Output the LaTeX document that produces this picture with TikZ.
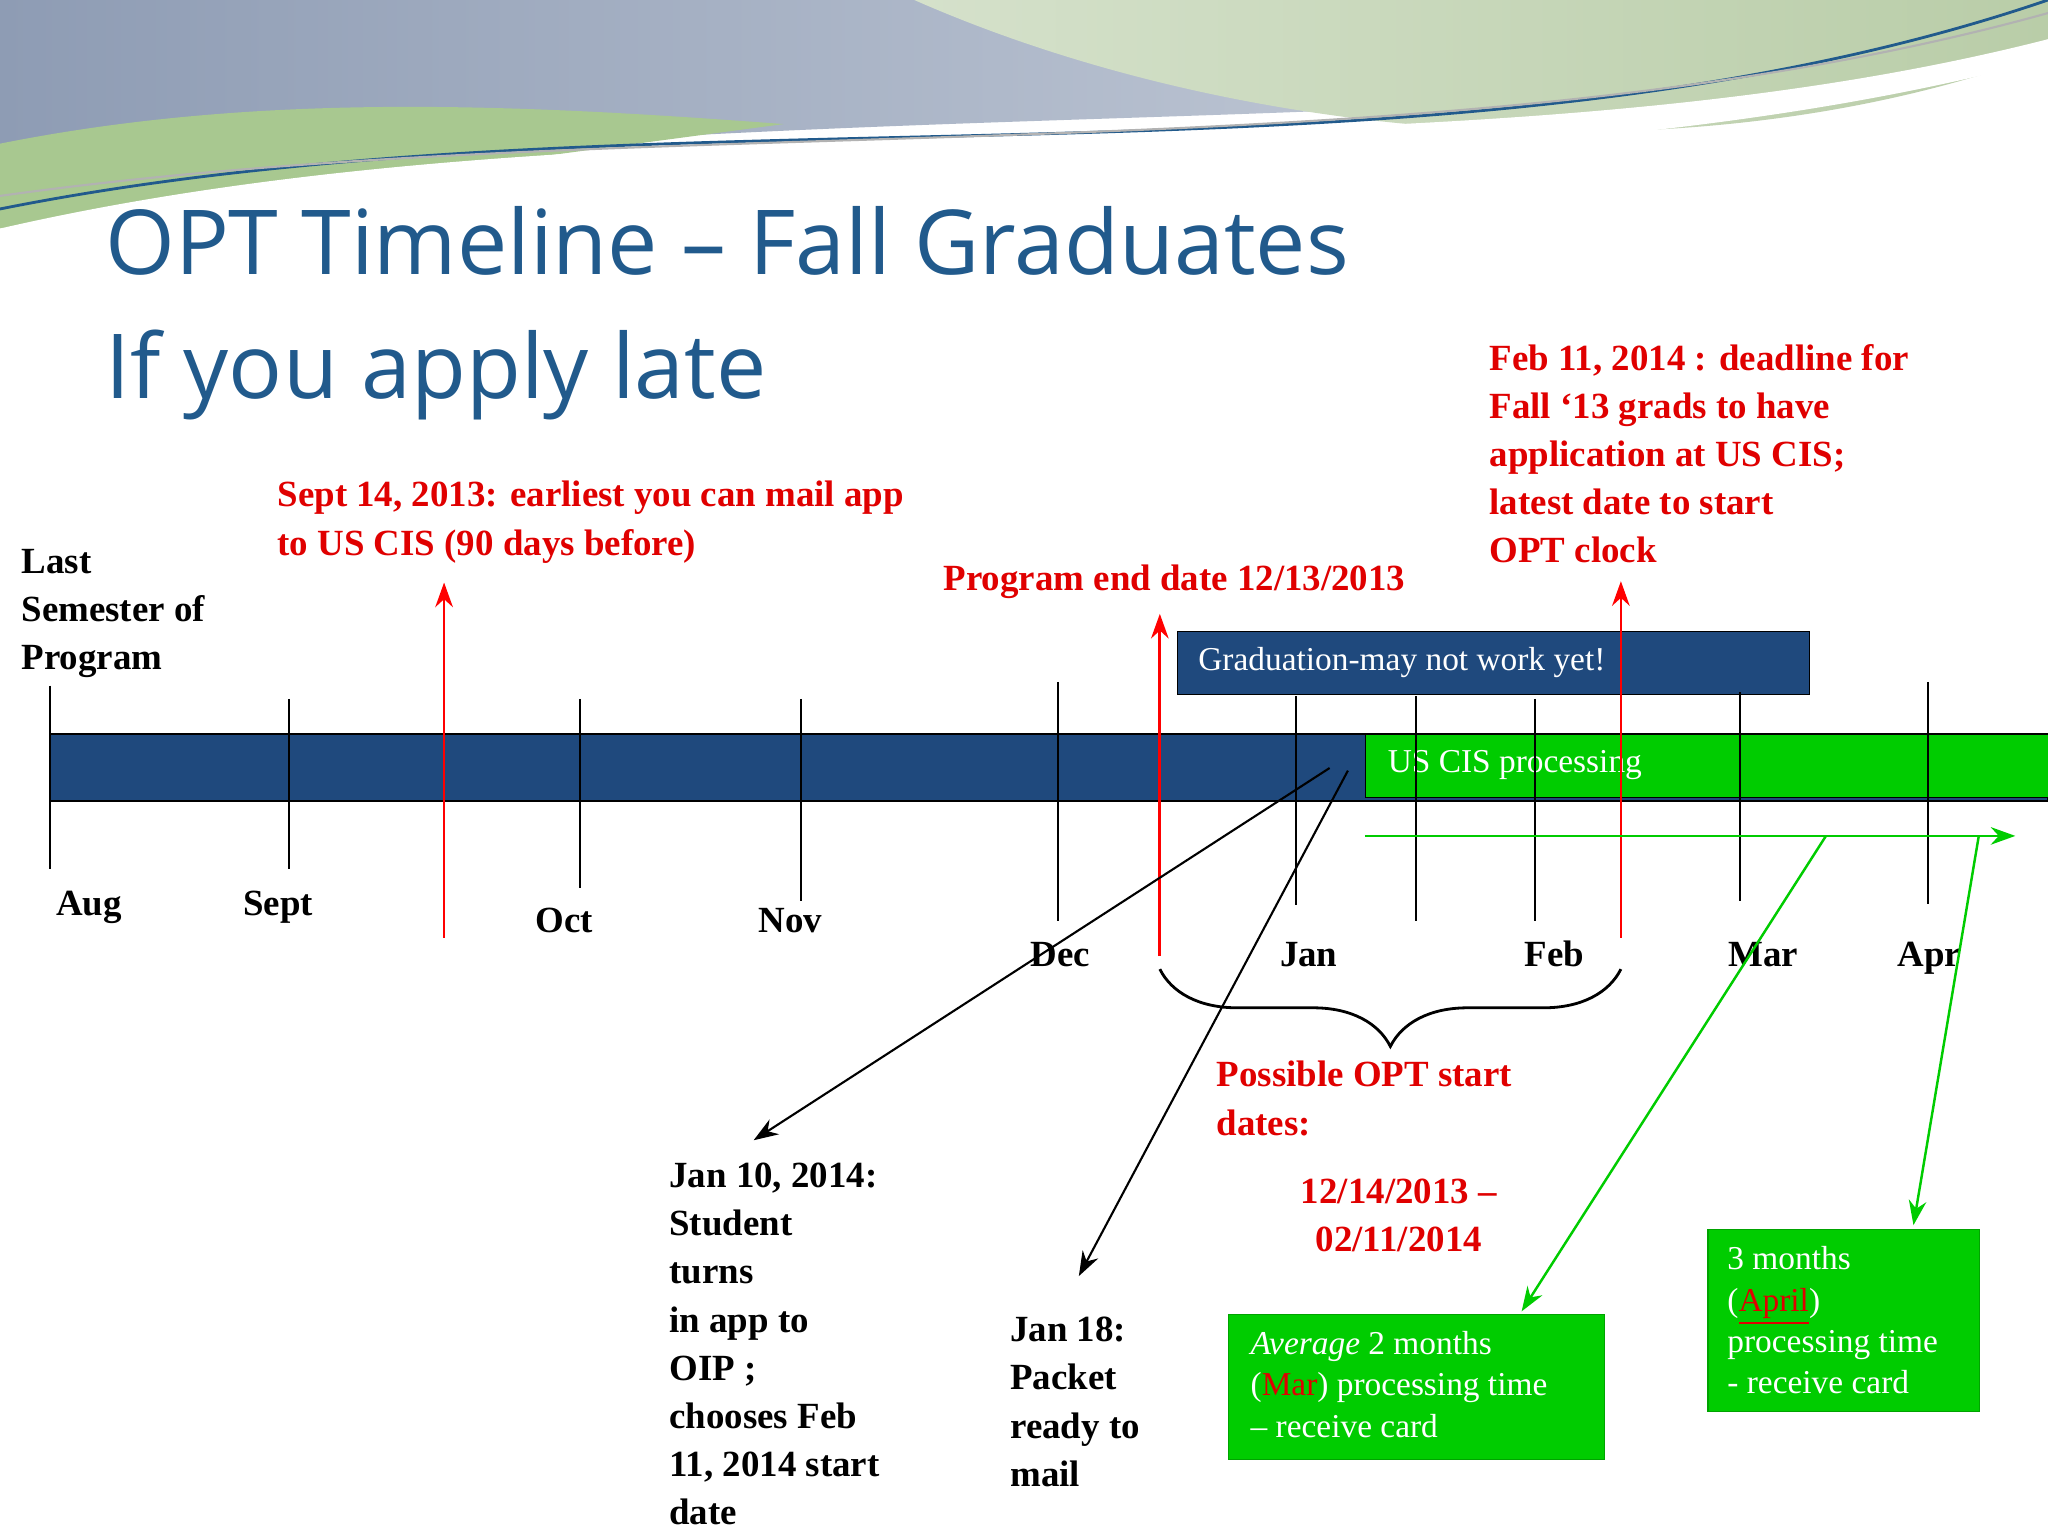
\documentclass[tikz,border=0pt]{standalone}
\usepackage{fontspec}
\setmainfont{Liberation Serif}
\newfontfamily\titlefont{Open Sans}
\usetikzlibrary{arrows.meta,decorations.pathreplacing}
\definecolor{dblue}{HTML}{1F497D}
\definecolor{tblue}{HTML}{215A8C}
\definecolor{gfill}{HTML}{00CC00}
\definecolor{rtxt}{HTML}{E00000}
\definecolor{hdrA}{HTML}{8E9CB4}
\definecolor{hdrB}{HTML}{B9CDA8}
\definecolor{hdrC}{HTML}{A8C890}
\tikzset{
  tick/.style={black,line width=0.6pt},
  redline/.style={red,line width=0.8pt},
  mon/.style={font=\bfseries\fontsize{10.5}{12}\selectfont,anchor=base},
  rtext/.style={font=\bfseries\fontsize{10.5}{13.7}\selectfont,text=rtxt,anchor=north west,align=left,inner sep=0pt},
  btext/.style={font=\bfseries\fontsize{10.5}{13.7}\selectfont,text=black,anchor=north west,align=left,inner sep=0pt},
  gbox/.style={fill=gfill,draw=gfill!80!black,line width=0.4pt},
  arr/.style={-{Stealth[length=7pt,width=5pt]}},
}
\begin{document}
\begin{tikzpicture}[x=0.013061cm,y=-0.013061cm]
\useasboundingbox (0,0) rectangle (1568,1176);
\fill[white] (0,0) rectangle (1568,1176);
% header swooshes
\shade[left color=hdrA,right color=hdrA!40!white] (0,0) -- (1568,0) -- (1568,20) .. controls (1200,120) and (700,60) .. (0,150) -- cycle;
\shade[left color=hdrB!60!white,right color=hdrB] (700,0) -- (1568,0) -- (1568,40) .. controls (1300,140) and (950,110) .. (700,0) -- cycle;
\fill[hdrC] (0,110) .. controls (200,70) and (400,80) .. (600,95) -- (0,175) -- cycle;
\fill[white] (0,175) .. controls (500,60) and (1100,150) .. (1568,30) -- (1568,45) .. controls (1100,170) and (500,95) .. (0,178) -- cycle;
\draw[tblue,line width=0.8pt] (0,160) .. controls (500,60) and (1100,160) .. (1568,0);
\draw[gray!60,line width=0.6pt] (0,150) .. controls (500,80) and (1100,140) .. (1568,10);
% title
\node[anchor=base west,inner sep=0pt,text=tblue,font=\titlefont\fontsize{25.5}{30}\selectfont] (t1) at (80,210) {OPT Timeline – Fall Graduates};
\node[anchor=base west,inner sep=0pt,text=tblue,font=\titlefont\fontsize{25.5}{30}\selectfont] (t2) at (80,305) {If you apply late};
% bar
\draw[fill=dblue,draw=black,line width=0.6pt] (38,562) rectangle (1568,613);
\node[gbox,draw=black,anchor=north west,minimum width=523*0.013061cm,minimum height=48*0.013061cm,inner sep=0pt] (uscis) at (1045,562) {};
\node[anchor=west,text=white,font=\fontsize{9.5}{11}\selectfont] at (1053,586) {US CIS processing};
\node[fill=dblue,draw=black,anchor=north west,minimum width=484*0.013061cm,minimum height=48*0.013061cm,inner sep=0pt] (grad) at (901,483) {};
\node[anchor=west,text=white,font=\fontsize{9.5}{11}\selectfont] at (908,507) {Graduation-may not work yet!};
% ticks
\foreach \x/\a/\b in {38/525/665,221/535/665,444/535/680,613/535/690,810/522/705,992/533/693,1084/533/705,1175/535/705,1332/530/690,1476/522/692}
  \draw[tick] (\x,\a) -- (\x,\b);
% red lines
\coordinate (r1t) at (340,446); \coordinate (r1b) at (340,718);
\coordinate (r2t) at (888,470); \coordinate (r2b) at (888,732);
\coordinate (r3t) at (1241,445); \coordinate (r3b) at (1241,718);
\draw[redline,arr] (r1b) -- (r1t);
\draw[redline,arr] (r2b) -- (r2t);
\draw[redline,arr] (r3b) -- (r3t);
% months
\node[mon] at (68,701) {Aug};
\node[mon] at (213,701) {Sept};
\node[mon] at (432,714) {Oct};
\node[mon] at (605,714) {Nov};
\node[mon] at (812,740) {Dec};
\node[mon] at (1002,740) {Jan};
\node[mon] at (1190,740) {Feb};
\node[mon] at (1350,740) {Mar};
\node[mon] at (1477,740) {Apr};
% brace
\draw[black,line width=0.8pt,decorate,decoration={brace,mirror,amplitude=22pt}] (888,742) -- (1241,742);
% texts
\node[btext] (last) at (16,420) {Last\\Semester of\\Program};
\node[rtext] (sept) at (212,368) {Sept 14, 2013: earliest you can mail app\\to US CIS (90 days before)};
\node[rtext] (pend) at (722,432) {Program end date 12/13/2013};
\node[rtext] (feb) at (1140,263) {Feb 11, 2014 : deadline for\\Fall `13 grads to have\\application at US CIS;\\latest date to start\\OPT clock};
\node[rtext] (poss) at (931,812) {Possible OPT start\\dates:};
\node[rtext,align=center,anchor=north] (range) at (1071,902) {12/14/2013 --\\02/11/2014};
\node[btext] (j10) at (512,890) {Jan 10, 2014:\\Student\\turns\\in app to\\OIP ;\\chooses Feb\\11, 2014 start\\date};
\node[btext] (j18) at (773,1008) {Jan 18:\\Packet\\ready to\\mail};
% green boxes
\node[gbox,anchor=north west,minimum width=288*0.013061cm,minimum height=111*0.013061cm,inner sep=0pt] (g1) at (940,1006) {};
\node[anchor=north west,inner sep=0pt,align=left,text=white,font=\fontsize{9.5}{11.7}\selectfont] at (957,1019) {\textit{Average} 2 months\\(\textcolor{rtxt}{Mar}) processing time\\-- receive card};
\node[gbox,anchor=north west,minimum width=208*0.013061cm,minimum height=139*0.013061cm,inner sep=0pt] (g2) at (1307,941) {};
\node[anchor=north west,inner sep=0pt,align=left,text=white,font=\fontsize{9.5}{11.7}\selectfont] at (1322,954) {3 months\\(\textcolor{rtxt}{\underline{April}})\\processing time\\- receive card};
% black arrows
\coordinate (a1) at (1018,588); \coordinate (a2) at (1032,590);
\draw[arr,black,line width=0.6pt] (a1) -- (577,873);
\draw[arr,black,line width=0.6pt] (a2) -- (826,977);
% green arrows
\coordinate (gs) at (1045,640); \coordinate (ge) at (1543,640);
\coordinate (gm) at (1398,640); \coordinate (gr) at (1515,640);
\draw[arr,green!80!black,line width=0.7pt] (gs) -- (ge);
\draw[arr,green!80!black,line width=0.7pt] (gm) -- (1165,1004);
\draw[arr,green!80!black,line width=0.7pt] (gr) -- (1465,938);
\end{tikzpicture}
\end{document}
